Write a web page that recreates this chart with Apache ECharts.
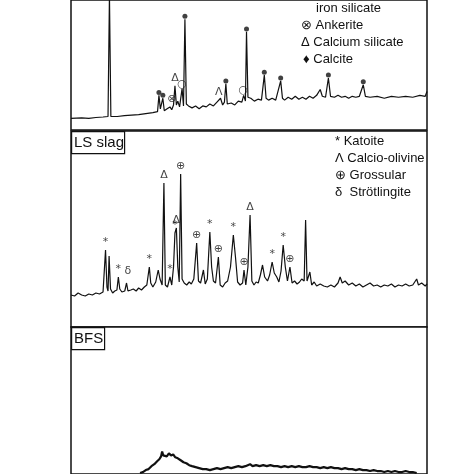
<!DOCTYPE html>
<html><head><meta charset="utf-8">
<script src="https://cdn.jsdelivr.net/npm/echarts@6/dist/echarts.min.js"></script>
<style>html,body{margin:0;background:#fff}#c{width:474px;height:474px}</style>
</head><body><div id="c"></div>
<script>
// x = position along the scan (0-100), y = intensity (a.u.)
// top panel
var topPoints = [[0,12],[3,12.5],[5,12],[7,13],[9,13.5],[10.4,14],[10.8,140],[11.2,14],[13,14],[15,15],[17,15.5],[19,16],[21,17],[23,18],[24.3,19],[24.7,36],[25.1,22],[25.5,20],[25.8,33],[26.2,20],[27,22],[27.8,24],[28.3,21],[28.8,26],[29.2,46],[29.6,26],[30,30],[30.5,24],[31.2,43],[31.6,25],[32,115],[32.4,27],[33,25],[34,23],[35,25],[36,22],[37,25],[38,24],[39,27],[40,25],[41,29],[42,33],[42.6,26],[43.1,29],[43.5,48],[43.9,27],[45,28],[46,26],[47,30],[48,29],[48.5,36],[49,30],[49.3,102],[49.7,34],[50.5,33],[51.5,30],[52.5,32],[53.5,31],[54.3,57],[54.8,33],[55.5,31],[56.5,33],[57.5,31],[58.9,51],[59.4,33],[60,31],[61,34],[62,32],[63,35],[64,32],[65,34],[66,32],[67,35],[68,33],[69,36],[70,42],[70.6,35],[71.5,34],[72.3,54],[72.9,35],[74,34],[75,36],[76,34],[77,35],[78,33],[79,35],[80,34],[81,35],[82.1,47],[82.7,35],[84,34],[86,35],[88,33],[90,35],[92,34],[94,35],[96,34],[98,36],[99.5,35],[100,40]];
var calcitePoints = [[24.7,39],[25.8,36],[32.0,118],[43.5,51],[49.3,105],[54.3,60],[58.9,54],[72.3,57],[82.1,50]];
var topMarks = [['⊗',28.3,24],['Δ',29.2,46],['○',31.2,40],['Λ',41.5,32],['○',48.4,34]];

// LS slag
var lsPoints = [[0,32],[1,31],[2,34],[3,32],[4,31],[5,33],[6,32],[7,34],[8,33],[9,35],[9.4,36],[9.7,77],[10.1,40],[10.4,36],[10.7,71],[11.1,38],[11.7,34],[12.3,36],[12.9,37],[13.3,50],[13.7,38],[14.3,35],[15.1,36],[15.6,44],[16,36],[16.8,37],[17.5,38],[18.3,36],[19,39],[19.8,37],[20.6,40],[21.3,42],[22,60],[22.4,44],[23,40],[23.8,45],[24.5,57],[25,48],[25.6,42],[26.1,144],[26.5,42],[27.1,40],[27.8,50],[28.3,42],[28.8,60],[29.2,94],[29.6,99],[30,60],[30.4,45],[30.8,153],[31.2,48],[31.8,44],[32.5,42],[33.2,45],[33.8,43],[34.5,48],[35.3,84],[35.8,46],[36.4,44],[37.2,57],[37.7,43],[38.3,48],[39,95],[39.5,60],[40,46],[40.6,44],[41.4,70],[41.9,42],[42.6,40],[43.3,44],[44,46],[44.8,60],[45.6,92],[46.2,70],[46.8,45],[47.5,42],[48.2,44],[48.6,57],[49.1,42],[49.7,60],[50.3,112],[50.8,46],[51.4,42],[52,45],[52.6,44],[53.2,52],[53.8,62],[54.4,50],[55.2,46],[55.8,52],[56.5,65],[57.1,54],[57.8,50],[58.4,45],[59,56],[59.6,82],[60.2,60],[60.8,46],[61.5,60],[62.1,44],[62.8,46],[63.5,43],[64.2,45],[64.8,48],[65.5,46],[65.9,107],[66.3,46],[67.1,55],[67.6,42],[68.3,45],[69,41],[70,43],[71,41],[72,40],[73,42],[74,40],[75,44],[75.6,50],[76.2,44],[77,46],[78,42],[79,44],[80,41],[81,43],[82,40],[83,42],[84,44],[85,41],[86,42],[87,40],[88,42],[89,41],[90,43],[91,40],[92,42],[93,41],[94,43],[95,41],[96,42],[97.1,48],[97.6,42],[98.5,44],[99.5,41],[100,43]];
var lsMarks = [
  ['*',9.7,77],['*',13.3,50],['δ',16,48],['*',22,60],['Δ',26.1,144],['*',27.8,50],['*',29.2,94],['Δ',29.6,99],
  ['⊕',30.8,153],['⊕',35.3,84],['*',39,95],['⊕',41.4,70],['*',45.6,92],['⊕',48.6,57],['Δ',50.3,112],
  ['*',56.5,65],['*',59.6,82],['⊕',61.5,60]
];

// BFS
var bfsPoints = [[19.4,1],[20.2,2],[21,4],[21.8,5],[22.6,8],[23.4,10],[24.2,13],[24.8,15],[25.3,18],[25.6,23],[25.9,19],[26.4,20],[26.9,18],[27.5,21],[28.1,19],[28.7,20],[29.3,17],[30,16],[30.8,14],[31.6,12],[32.4,11],[33.2,9],[34,8],[35,7],[36,6],[37,5],[38,5],[39,4],[40,5],[41,6],[42,5],[43,6],[44,7],[45,6],[46,7],[47,8],[48,7],[49,8],[50.3,10],[51,8],[52,9],[53,8],[54,9],[55,8],[56,9],[57,8],[58,8],[59,7],[60,8],[61,7],[62,8],[63,7],[64,8],[65,7],[66,7],[67,8],[68,7],[69,7],[70,6],[71,7],[72,6],[73,7],[74,6],[75,6],[76,5],[77,6],[78,5],[79,5],[80,4],[81,5],[82,4],[83,4],[84,3],[85,4],[86,3],[87,3],[88,2],[89,3],[90,2],[91,3],[92,2],[93,2],[94,3],[95,2],[96,2],[97.1,1]];

var chart = echarts.init(document.getElementById('c'));
var grids = [
  {left:71, right:47, top:-5, height:135},
  {left:71, right:47, top:131, height:196},
  {left:71, right:47, top:327, height:150}
].map(function(g){ g.show=true; g.borderColor='#111'; g.borderWidth=1.5; g.backgroundColor='#fff'; return g; });
var yMax = [135,196,150];
var lineStyle = {color:'#111', width:1.2};
function marks(arr, i){
  return {type:'scatter', xAxisIndex:i, yAxisIndex:i, symbolSize:0, silent:true,
    data: arr.map(function(m){ return {value:[m[1],m[2]], name:m[0]}; }),
    label:{show:true, position:'top', distance:2, formatter:'{b}', color:'#111', fontSize:11, fontFamily:'DejaVu Sans'}};
}
var font = '13px "Liberation Sans"';
chart.setOption({
  animation:false,
  grid: grids,
  xAxis: [0,1,2].map(function(i){ return {type:'value', gridIndex:i, min:0, max:100, show:false}; }),
  yAxis: [0,1,2].map(function(i){ return {type:'value', gridIndex:i, min:0, max:yMax[i], show:false}; }),
  series: [
    {type:'line', xAxisIndex:0, yAxisIndex:0, data:topPoints, symbol:'none', lineStyle:lineStyle},
    {type:'scatter', xAxisIndex:0, yAxisIndex:0, data:calcitePoints, symbolSize:5, itemStyle:{color:'#111'}},
    marks(topMarks,0),
    {type:'line', xAxisIndex:1, yAxisIndex:1, data:lsPoints, symbol:'none', lineStyle:lineStyle},
    marks(lsMarks,1),
    {type:'line', xAxisIndex:2, yAxisIndex:2, data:bfsPoints, symbol:'none', lineStyle:{color:'#111', width:2.2}}
  ],
  graphic: [
    {type:'text', left:316, top:2, style:{text:'iron silicate', font:font, fill:'#111'}},
    {type:'text', left:301, top:19, style:{text:'⊗ Ankerite', font:font, fill:'#111'}},
    {type:'text', left:301, top:36, style:{text:'Δ Calcium silicate', font:font, fill:'#111'}},
    {type:'text', left:303, top:53, style:{text:'♦ Calcite', font:font, fill:'#111'}},
    {type:'text', left:335, top:135, style:{text:'* Katoite', font:font, fill:'#111'}},
    {type:'text', left:335, top:152, style:{text:'Λ Calcio-olivine', font:font, fill:'#111'}},
    {type:'text', left:335, top:169, style:{text:'⊕ Grossular', font:font, fill:'#111'}},
    {type:'text', left:335, top:186, style:{text:'δ  Strötlingite', font:font, fill:'#111'}},
    {type:'rect', left:71, top:131, shape:{width:53, height:22}, style:{fill:'#fff', stroke:'#111', lineWidth:1.2}},
    {type:'text', left:74, top:135, style:{text:'LS slag', font:'15px "Liberation Sans"', fill:'#111'}},
    {type:'rect', left:71, top:327, shape:{width:33, height:22}, style:{fill:'#fff', stroke:'#111', lineWidth:1.2}},
    {type:'text', left:74, top:331, style:{text:'BFS', font:'15px "Liberation Sans"', fill:'#111'}}
  ]
});
</script></body></html>
